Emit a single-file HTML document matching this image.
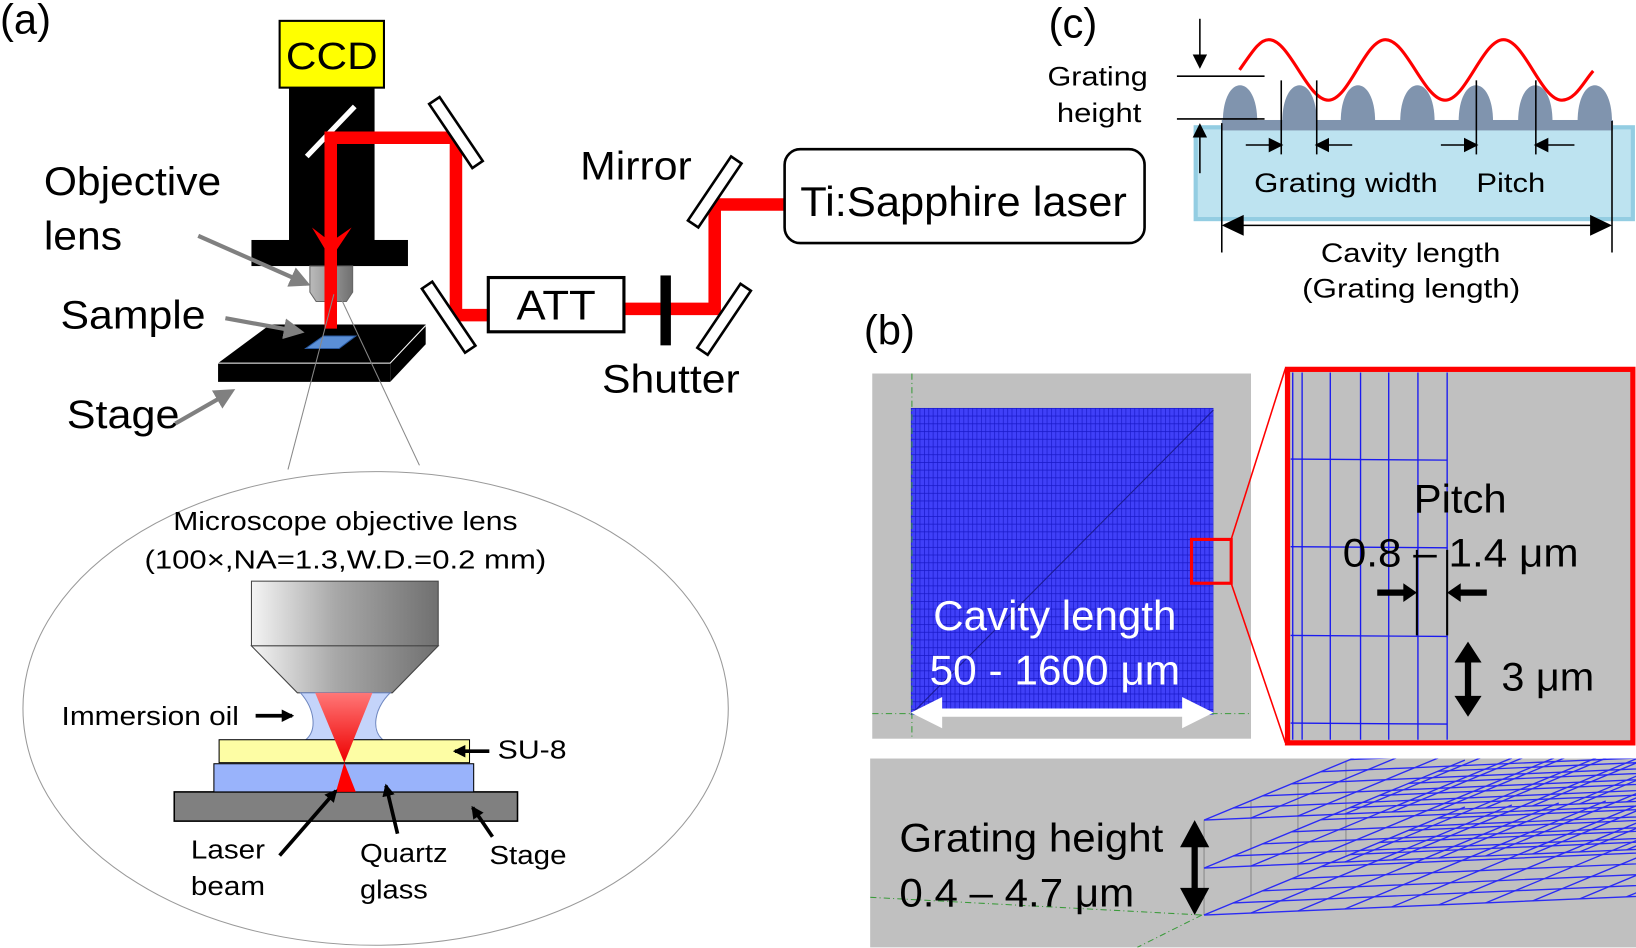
<!DOCTYPE html>
<html><head><meta charset="utf-8"><style>
html,body{margin:0;padding:0;background:#fff;}
svg{display:block;}
text{font-family:"Liberation Sans",Arial,sans-serif;fill:#000;}
</style></head><body>
<svg width="1636" height="948" viewBox="0 0 1568 908.6" xmlns="http://www.w3.org/2000/svg">
<defs>
<marker id="ah" markerWidth="14" markerHeight="14" refX="12" refY="7" orient="auto" markerUnits="userSpaceOnUse"><path d="M0,0 L14,7 L0,14 z" fill="#000"/></marker>
<marker id="ahs" markerWidth="12" markerHeight="12" refX="10" refY="6" orient="auto" markerUnits="userSpaceOnUse"><path d="M0,0 L12,6 L0,12 z" fill="#000"/></marker>
<marker id="ahg" markerWidth="20" markerHeight="20" refX="16" refY="10" orient="auto" markerUnits="userSpaceOnUse"><path d="M0,0 L20,10 L0,20 z" fill="#808080"/></marker>
<linearGradient id="lg" x1="0" x2="1" y1="0" y2="0"><stop offset="0" stop-color="#f4f4f4"/><stop offset="0.45" stop-color="#a8a8a8"/><stop offset="1" stop-color="#707070"/></linearGradient>
<linearGradient id="lg2" x1="0" x2="1"><stop offset="0" stop-color="#bbb"/><stop offset="1" stop-color="#707070"/></linearGradient>
<linearGradient id="redg" x1="0" y1="0" x2="0" y2="1"><stop offset="0" stop-color="#f77"/><stop offset="1" stop-color="#e00"/></linearGradient>
<pattern id="grid" width="4.2" height="7.4" patternUnits="userSpaceOnUse" x="873" y="391"><rect width="4.2" height="7.4" fill="#4040f8"/><path d="M0,0 V7.4 M0,0 H4.2" stroke="#1818c8" stroke-width="1.3"/></pattern>
<clipPath id="bp"><rect x="834" y="727" width="734" height="181"/></clipPath>
<g id="plane" fill="none" stroke="#2a2af5" stroke-width="1.3">
<path d="M0,0 l450,-19.4 M28,-11.6 l450,-19.4 M56,-23.2 l450,-19.4 M84,-34.8 l450,-19.4 M112,-46.4 l450,-19.4 M140,-58 l450,-19.4 M168,-69.6 l450,-19.4 M196,-81.2 l450,-19.4 M224,-92.8 l450,-19.4"/>
<path d="M0,0 l250,-103.5 M45,-1.94 l250,-103.5 M90,-3.88 l250,-103.5 M135,-5.82 l250,-103.5 M180,-7.76 l250,-103.5 M225,-9.7 l250,-103.5 M270,-11.64 l250,-103.5 M315,-13.58 l250,-103.5 M360,-15.52 l250,-103.5 M405,-17.46 l250,-103.5 M450,-19.4 l250,-103.5"/>
</g>
</defs>

<!-- ===== (a) ===== -->
<text x="0" y="32" font-size="40">(a)</text>
<rect x="277" y="84" width="82" height="148" fill="#000"/>
<rect x="241" y="230" width="150" height="25" fill="#000"/>
<rect x="268" y="20" width="100" height="64" fill="#ffff00" stroke="#000" stroke-width="2"/>
<text x="318" y="66" font-size="36" text-anchor="middle" textLength="88" lengthAdjust="spacingAndGlyphs">CCD</text>
<line x1="294" y1="150" x2="340" y2="102" stroke="#fff" stroke-width="5"/>
<path d="M297,255 H338 V280 L332,289 H303 L297,280 Z" fill="url(#lg2)" stroke="#666" stroke-width="1"/>
<polygon points="209,348 259,311 408,311 374,348" fill="#000"/>
<polygon points="374,348 408,311 408,330 374,366" fill="#000"/>
<rect x="209" y="348" width="165" height="18" fill="#000"/>
<polyline points="209,348 374,348 408,312" fill="none" stroke="#fff" stroke-width="1"/>
<polygon points="293,334 310,322 341,322 325,334" fill="#5b8fd6" stroke="#2a5aa0" stroke-width="1"/>
<polyline points="317,315 317,132 437,132 437,302 468,302" fill="none" stroke="#f00" stroke-width="12"/>
<polyline points="598,296 685,296 685,196 753,196" fill="none" stroke="#f00" stroke-width="12"/>
<path d="M317,248 L299,218 L317,232 L337,218 Z" fill="#f00"/>
<line x1="320" y1="282" x2="276" y2="450" stroke="#888" stroke-width="1"/>
<line x1="325" y1="282" x2="402" y2="446" stroke="#888" stroke-width="1"/>
<g fill="#fff" stroke="#000" stroke-width="2.5">
<rect x="-6" y="-37" width="12" height="74" transform="translate(437,127) rotate(-34)"/>
<rect x="-6" y="-37" width="12" height="74" transform="translate(430,304) rotate(-34)"/>
<rect x="-6" y="-37" width="12" height="74" transform="translate(685,184) rotate(34)"/>
<rect x="-6" y="-37" width="12" height="74" transform="translate(694,306) rotate(34)"/>
</g>
<rect x="633" y="264" width="10" height="67" fill="#000"/>
<rect x="468" y="266" width="130" height="52" fill="#fff" stroke="#000" stroke-width="3"/>
<text x="533" y="306" font-size="40" text-anchor="middle" textLength="76" lengthAdjust="spacingAndGlyphs">ATT</text>
<rect x="752" y="143" width="345" height="90" rx="15" fill="#fff" stroke="#000" stroke-width="2.5"/>
<text x="767" y="207" font-size="40" textLength="313" lengthAdjust="spacingAndGlyphs">Ti:Sapphire laser</text>
<text x="556" y="172" font-size="38" textLength="107" lengthAdjust="spacingAndGlyphs">Mirror</text>
<text x="577" y="376" font-size="38" textLength="132" lengthAdjust="spacingAndGlyphs">Shutter</text>
<text x="42" y="187" font-size="38" textLength="170" lengthAdjust="spacingAndGlyphs">Objective</text>
<text x="42" y="239" font-size="38" textLength="75" lengthAdjust="spacingAndGlyphs">lens</text>
<text x="58" y="315" font-size="38" textLength="139" lengthAdjust="spacingAndGlyphs">Sample</text>
<text x="64" y="410" font-size="38" textLength="108" lengthAdjust="spacingAndGlyphs">Stage</text>
<g stroke="#808080" stroke-width="4" marker-end="url(#ahg)">
<line x1="190" y1="226" x2="294" y2="272"/>
<line x1="216" y1="305" x2="288" y2="318"/>
<line x1="168" y1="406" x2="222" y2="375"/>
</g>

<ellipse cx="360" cy="679" rx="338" ry="227" fill="#fff" stroke="#999" stroke-width="1"/>
<text x="331" y="508" font-size="25" text-anchor="middle" textLength="330" lengthAdjust="spacingAndGlyphs">Microscope objective lens</text>
<text x="331" y="545" font-size="25" text-anchor="middle" textLength="385" lengthAdjust="spacingAndGlyphs">(100×,NA=1.3,W.D.=0.2 mm)</text>
<rect x="241" y="557" width="179" height="62" fill="url(#lg)" stroke="#444" stroke-width="1"/>
<polygon points="241,619 420,619 376,664 285,664" fill="url(#lg)" stroke="#444" stroke-width="1"/>
<path d="M288,664 H374 C358,680 356,700 367,709 H293 C304,700 302,680 288,664 Z" fill="#c4d4fa" stroke="#7088c0" stroke-width="1"/>
<rect x="167" y="759" width="329" height="28" fill="#808080" stroke="#000" stroke-width="1.5"/>
<rect x="205" y="732" width="249" height="27" fill="#99b3fb" stroke="#000" stroke-width="1"/>
<rect x="210" y="709" width="240" height="22" fill="#fdfda4" stroke="#000" stroke-width="1"/>
<polygon points="302,664 357,664 330,731" fill="url(#redg)"/>
<polygon points="330,731 322,759 341,759" fill="#f00"/>
<text x="59" y="695" font-size="25" textLength="170" lengthAdjust="spacingAndGlyphs">Immersion oil</text>
<text x="477" y="727" font-size="25" textLength="66" lengthAdjust="spacingAndGlyphs">SU-8</text>
<text x="183" y="823" font-size="25" textLength="71" lengthAdjust="spacingAndGlyphs">Laser</text>
<text x="183" y="858" font-size="25" textLength="71" lengthAdjust="spacingAndGlyphs">beam</text>
<text x="345" y="826" font-size="25" textLength="84" lengthAdjust="spacingAndGlyphs">Quartz</text>
<text x="345" y="861" font-size="25" textLength="65" lengthAdjust="spacingAndGlyphs">glass</text>
<text x="469" y="828" font-size="25" textLength="74" lengthAdjust="spacingAndGlyphs">Stage</text>
<g stroke="#000" stroke-width="3.5" marker-end="url(#ahs)">
<line x1="245" y1="686" x2="280" y2="686"/>
<line x1="469" y1="720" x2="436" y2="720"/>
<line x1="268" y1="820" x2="322" y2="758"/>
<line x1="381" y1="799" x2="370" y2="753"/>
<line x1="472" y1="802" x2="453" y2="774"/>
</g>

<!-- ===== (c) ===== -->
<text x="1005" y="36" font-size="40">(c)</text>
<rect x="1146" y="122" width="419" height="88" fill="#bde3f0" stroke="#93cde2" stroke-width="4"/>
<rect x="1171" y="115" width="375" height="10" fill="#8094ae"/>
<g fill="#8094ae">
<path d="M1172,117 C1172,70 1205,70 1205,117 Z"/>
<path d="M1229,117 C1229,70 1262,70 1262,117 Z"/>
<path d="M1285,117 C1285,70 1318,70 1318,117 Z"/>
<path d="M1342,117 C1342,70 1375,70 1375,117 Z"/>
<path d="M1398,117 C1398,70 1431,70 1431,117 Z"/>
<path d="M1455,117 C1455,70 1488,70 1488,117 Z"/>
<path d="M1512,117 C1512,70 1545,70 1545,117 Z"/>
</g>
<path d="M1188,67 C1200,50 1207,38 1216,38 C1236,38 1253,96 1273,96 C1293,96 1308,38 1328,38 C1348,38 1365,96 1385,96 C1405,96 1421,38 1441,38 C1461,38 1477,96 1497,96 C1510,96 1518,78 1527,68" fill="none" stroke="#f00" stroke-width="3"/>
<g stroke="#000" stroke-width="1.5">
<line x1="1128" y1="73" x2="1212" y2="73"/>
<line x1="1128" y1="114" x2="1212" y2="114"/>
<line x1="1228" y1="77" x2="1228" y2="148"/>
<line x1="1262" y1="77" x2="1262" y2="148"/>
<line x1="1415" y1="77" x2="1415" y2="148"/>
<line x1="1472" y1="77" x2="1472" y2="148"/>
<line x1="1171" y1="118" x2="1171" y2="242"/>
<line x1="1545" y1="116" x2="1545" y2="242"/>
</g>
<g stroke="#000" stroke-width="1.5" marker-end="url(#ah)">
<line x1="1150" y1="18" x2="1150" y2="64"/>
<line x1="1150" y1="166" x2="1150" y2="120"/>
<line x1="1194" y1="139" x2="1228" y2="139"/>
<line x1="1296" y1="139" x2="1262" y2="139"/>
<line x1="1381" y1="139" x2="1415" y2="139"/>
<line x1="1509" y1="139" x2="1472" y2="139"/>
</g>
<line x1="1185" y1="216" x2="1531" y2="216" stroke="#000" stroke-width="1.5"/>
<path d="M1171,216 L1192,206 L1192,226 Z M1545,216 L1524,206 L1524,226 Z" fill="#000"/>
<text x="1100" y="82" font-size="26" text-anchor="end" textLength="96" lengthAdjust="spacingAndGlyphs">Grating</text>
<text x="1094" y="117" font-size="26" text-anchor="end" textLength="81" lengthAdjust="spacingAndGlyphs">height</text>
<text x="1202" y="184" font-size="26" textLength="176" lengthAdjust="spacingAndGlyphs">Grating width</text>
<text x="1415" y="184" font-size="26" textLength="66" lengthAdjust="spacingAndGlyphs">Pitch</text>
<text x="1266" y="251" font-size="26" textLength="172" lengthAdjust="spacingAndGlyphs">Cavity length</text>
<text x="1248" y="285" font-size="26" textLength="209" lengthAdjust="spacingAndGlyphs">(Grating length)</text>

<!-- ===== (b) ===== -->
<text x="828" y="330" font-size="40">(b)</text>
<rect x="836" y="358" width="363" height="350" fill="#c0c0c0"/>
<rect x="873" y="391" width="290" height="294" fill="url(#grid)"/>
<line x1="873" y1="685" x2="1163" y2="393" stroke="#1a1a90" stroke-width="1"/>
<line x1="874" y1="358" x2="874" y2="708" stroke="#3a9a3a" stroke-width="1" stroke-dasharray="6,3,1,3"/>
<line x1="836" y1="684" x2="1199" y2="684" stroke="#3a9a3a" stroke-width="1" stroke-dasharray="6,3,1,3"/>
<text x="1011" y="604" font-size="40" text-anchor="middle" style="fill:#fff" textLength="233" lengthAdjust="spacingAndGlyphs">Cavity length</text>
<text x="1011" y="656" font-size="40" text-anchor="middle" style="fill:#fff" textLength="240" lengthAdjust="spacingAndGlyphs">50 - 1600 μm</text>
<line x1="895" y1="683" x2="1141" y2="683" stroke="#fff" stroke-width="8"/>
<path d="M873,683 L903,668 L903,698 Z M1163,683 L1133,668 L1133,698 Z" fill="#fff"/>
<rect x="1142" y="517" width="38" height="42" fill="none" stroke="#f00" stroke-width="3"/>
<line x1="1180" y1="517" x2="1232" y2="353" stroke="#f00" stroke-width="1.5"/>
<line x1="1180" y1="559" x2="1232" y2="712" stroke="#f00" stroke-width="1.5"/>
<rect x="1234" y="354" width="331" height="358" fill="#c0c0c0" stroke="#f00" stroke-width="5"/>
<g stroke="#1a1af0" stroke-width="1.3">
<line x1="1239" y1="357" x2="1239" y2="709"/>
<line x1="1248" y1="357" x2="1248" y2="709"/>
<line x1="1275" y1="357" x2="1275" y2="709"/>
<line x1="1304" y1="357" x2="1304" y2="709"/>
<line x1="1331" y1="357" x2="1331" y2="709"/>
<line x1="1359" y1="357" x2="1359" y2="709"/>
<line x1="1387" y1="357" x2="1387" y2="709"/>
<line x1="1237" y1="440" x2="1387" y2="441"/>
<line x1="1237" y1="524" x2="1387" y2="525"/>
<line x1="1237" y1="609" x2="1387" y2="610"/>
<line x1="1237" y1="693" x2="1387" y2="694"/>
</g>
<text x="1355" y="491" font-size="38" textLength="89" lengthAdjust="spacingAndGlyphs">Pitch</text>
<text x="1287" y="543" font-size="38" textLength="226" lengthAdjust="spacingAndGlyphs">0.8 – 1.4 μm</text>
<g stroke="#000" stroke-width="2"><line x1="1358" y1="527" x2="1358" y2="609"/><line x1="1387" y1="527" x2="1387" y2="609"/></g>
<path d="M1320,565 H1345 V559 L1358,568 L1345,577 V571 H1320 Z M1425,565 H1400 V559 L1387,568 L1400,577 V571 H1425 Z" fill="#000"/>
<path d="M1407,615 L1420,635 H1410 V667 H1420 L1407,687 L1394,667 H1404 V635 H1394 Z" fill="#000"/>
<text x="1439" y="662" font-size="38" textLength="89" lengthAdjust="spacingAndGlyphs">3 μm</text>

<rect x="834" y="727" width="734" height="181" fill="#c0c0c0"/>
<g clip-path="url(#bp)">
<line x1="834" y1="860" x2="1152" y2="877" stroke="#3a9a3a" stroke-width="1" stroke-dasharray="6,3,1,3"/>
<line x1="1152" y1="877" x2="1090" y2="908" stroke="#3a9a3a" stroke-width="1" stroke-dasharray="6,3,1,3"/>
<g stroke="#888" stroke-width="1"><line x1="1154" y1="786" x2="1154" y2="877"/><line x1="1199" y1="767" x2="1199" y2="858"/><line x1="1244" y1="748" x2="1244" y2="839"/><line x1="1290" y1="729" x2="1290" y2="820"/></g>
<use href="#plane" transform="translate(1154,877)"/>
<use href="#plane" transform="translate(1154,832)"/>
<use href="#plane" transform="translate(1154,786)"/>
</g>
<text x="862" y="816" font-size="38" textLength="253" lengthAdjust="spacingAndGlyphs">Grating height</text>
<text x="862" y="869" font-size="38" textLength="225" lengthAdjust="spacingAndGlyphs">0.4 – 4.7 μm</text>
<path d="M1145,786 L1159,812 H1148 V851 H1159 L1145,877 L1131,851 H1142 V812 H1131 Z" fill="#000"/>
</svg>
</body></html>
